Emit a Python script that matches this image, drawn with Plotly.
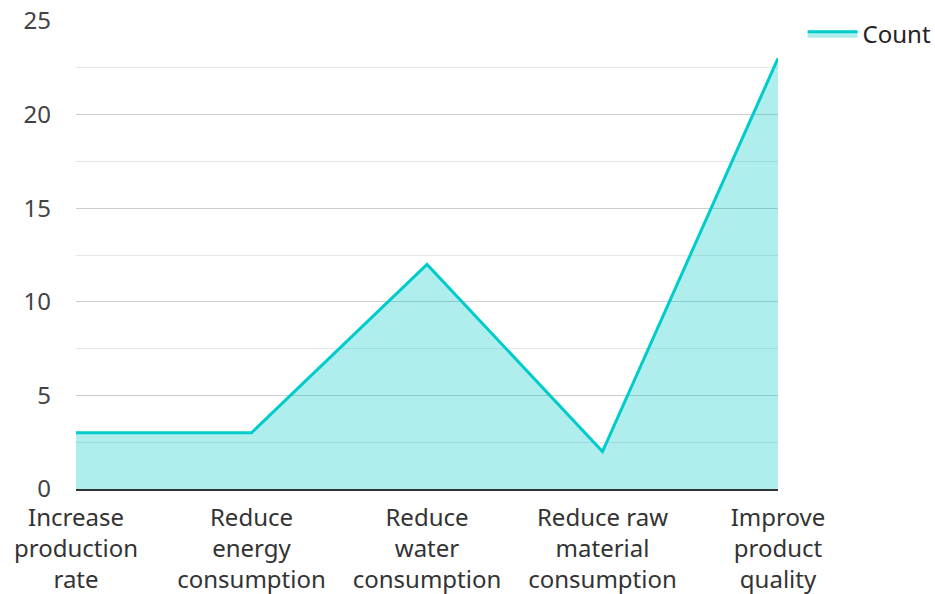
import plotly.graph_objects as go

categories = [
    "Increase<br>production<br>rate",
    "Reduce<br>energy<br>consumption",
    "Reduce<br>water<br>consumption",
    "Reduce raw<br>material<br>consumption",
    "Improve<br>product<br>quality",
]
counts = [3, 3, 12, 2, 23]
series_name = "Count"

fig = go.Figure()
fig.add_trace(go.Scatter(
    x=categories,
    y=counts,
    name=series_name,
    mode="lines",
    line=dict(color="#00CCCC", width=3),
    fill="tozeroy",
    fillcolor="rgba(0,200,200,0.31)",
))

fig.update_layout(
    width=935,
    height=594,
    margin=dict(l=76, r=157, t=21, b=105, autoexpand=False),
    paper_bgcolor="white",
    plot_bgcolor="white",
    font=dict(family="Noto Sans, Open Sans, sans-serif", size=24, color="#333"),
    showlegend=True,
    legend=dict(
        x=1.035, y=1.02, xanchor="left", yanchor="top",
        font=dict(size=24, color="#222"),
        bgcolor="rgba(0,0,0,0)",
        itemwidth=50,
    ),
    xaxis=dict(
        type="category",
        range=[0, 4],
        automargin=False,
        showgrid=False,
        showline=True,
        linecolor="#333",
        linewidth=2,
        ticks="",
        ticklabelstandoff=6,
        tickfont=dict(size=24, color="#333"),
    ),
    yaxis=dict(
        range=[0, 25],
        dtick=5,
        automargin=False,
        showgrid=True,
        gridcolor="#cccccc",
        gridwidth=1,
        zeroline=False,
        showline=False,
        ticks="",
        ticklabelstandoff=24,
        tickfont=dict(size=24, color="#444"),
        minor=dict(dtick=2.5, showgrid=True, gridcolor="#e6e6e6", gridwidth=1),
    ),
)

fig.write_html("out.html")
